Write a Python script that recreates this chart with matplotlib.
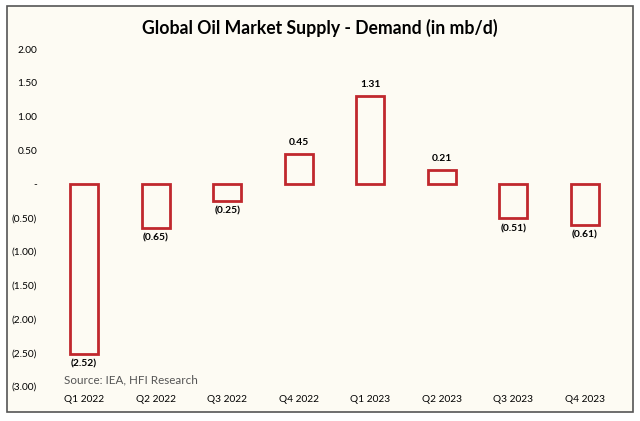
import matplotlib
matplotlib.use("Agg")
import matplotlib.pyplot as plt
from matplotlib.patches import Rectangle

quarters = ["Q1 2022", "Q2 2022", "Q3 2022", "Q4 2022",
            "Q1 2023", "Q2 2023", "Q3 2023", "Q4 2023"]
balance = [-2.52, -0.65, -0.25, 0.45, 1.31, 0.21, -0.51, -0.61]
yticks = [2.0, 1.5, 1.0, 0.5, 0.0, -0.5, -1.0, -1.5, -2.0, -2.5, -3.0]


def fmt(v):
    if v == 0:
        return "-"
    if v < 0:
        return "({:.2f})".format(-v)
    return "{:.2f}".format(v)


bg = "#fdfbf3"
red = "#c0282d"
plt.rcParams['font.family'] = ['Lato', 'DejaVu Sans']

fig = plt.figure(figsize=(6.4, 4.21), dpi=100, facecolor="white")
# chart border
fig.patches.append(Rectangle((7 / 640, 1 - 412 / 421), 626 / 640, 406 / 421,
                             transform=fig.transFigure, facecolor=bg,
                             edgecolor="#555555", linewidth=1.2, zorder=-10))

ax = fig.add_axes([0.0753, 0.082, 0.8947, 0.8016])
ax.set_facecolor("none")
x = list(range(len(quarters)))
ax.bar(x, balance, width=0.39, facecolor="none", edgecolor=red, linewidth=2)

for xi, v in zip(x, balance):
    if v >= 0:
        ax.annotate(fmt(v), (xi, v), xytext=(0, 5), textcoords="offset points",
                    ha="center", va="bottom", fontsize=7.4, fontweight="bold")
    else:
        ax.annotate(fmt(v), (xi, v), xytext=(0, -4), textcoords="offset points",
                    ha="center", va="top", fontsize=7.4, fontweight="bold")

ax.set_xlim(-0.5, len(quarters) - 0.5)
ax.set_ylim(-3.0, 2.0)
ax.set_yticks(yticks)
ax.set_yticklabels([fmt(t) for t in yticks], fontsize=7.3)
ax.set_xticks(x)
ax.set_xticklabels(quarters, fontsize=7.3)
ax.tick_params(axis="both", length=0)
ax.tick_params(axis="y", pad=8)
ax.tick_params(axis="x", pad=6)
for s in ax.spines.values():
    s.set_visible(False)

fig.text(0.5, 1 - 28 / 421, "Global Oil Market Supply - Demand (in mb/d)",
         ha="center", va="center", fontsize=12.7, fontweight="bold")
fig.text(64 / 640, 1 - 380 / 421, "Source: IEA, HFI Research",
         ha="left", va="center", fontsize=8.4, color="#555555")

fig.savefig("out.png", dpi=100, facecolor="white")
